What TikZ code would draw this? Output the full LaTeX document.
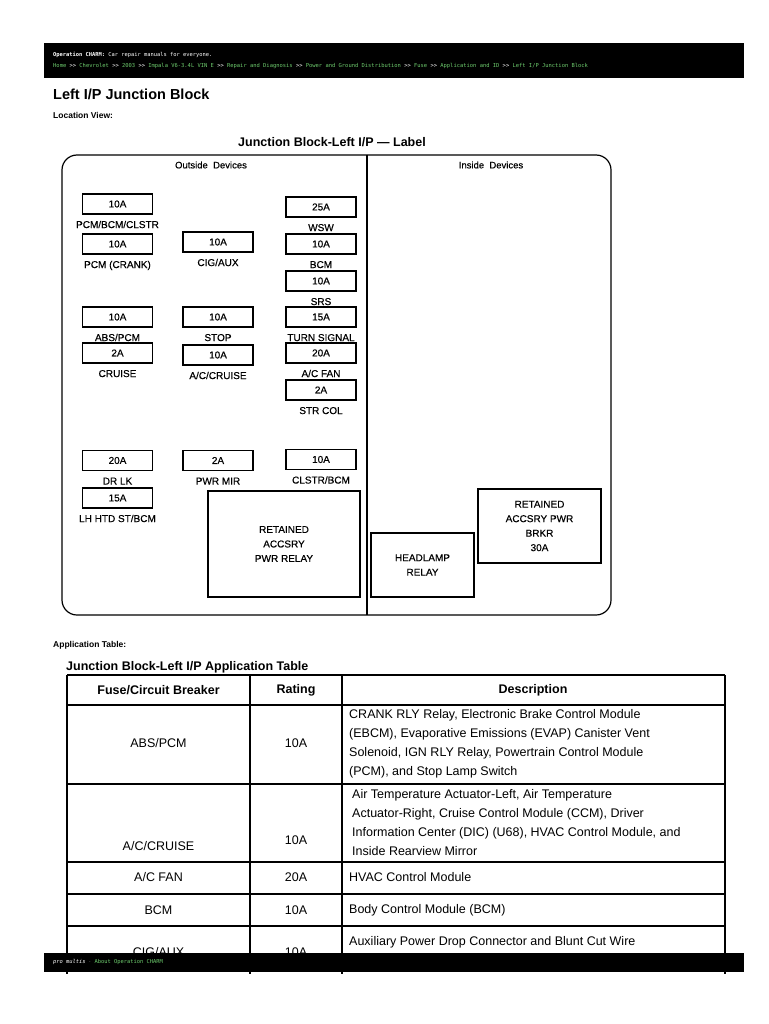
\documentclass[tikz,border=0pt]{standalone}
\usepackage{fontspec}
\setmainfont{Liberation Sans}
\newfontfamily\crumbfont{DejaVu Sans Mono}
\newfontfamily\diagfont[FakeBold=0.35]{Liberation Sans}
\usetikzlibrary{positioning}
\definecolor{crumbgreen}{RGB}{110,205,110}
\newcommand\crumbsep{\textcolor{white}{>>}}

\begin{document}
\begin{tikzpicture}[
    x=1pt, y=-1pt,
    node distance=6pt,
    fuse/.style={rectangle, draw=black, line width=1.7pt,
                 minimum width=70pt, minimum height=20pt, inner sep=0pt,
                 font=\diagfont\fontsize{10}{11}\selectfont},
    fuselbl/.style={inner sep=0pt, text height=7pt, text depth=0pt,
                    font=\diagfont\fontsize{10}{11}\selectfont},
    relay/.style={rectangle, draw=black, line width=1.5pt, inner sep=0pt,
                  align=center, font=\diagfont\fontsize{10}{14.5}\selectfont},
    cell/.style={inner sep=0pt, font=\fontsize{12.5}{19}\selectfont},
    hcell/.style={inner sep=0pt, font=\bfseries\fontsize{12.5}{19}\selectfont},
    desc/.style={cell, anchor=north west, align=left},
    tblline/.style={line width=1.4pt},
    bar/.style={fill=black}
]
\useasboundingbox[fill=white] (0,0) rectangle (768,1024);

% --- header bar ---
\fill[bar] (44,43) rectangle (744,78);
\node[anchor=west, inner sep=0pt, text=white, font=\crumbfont\fontsize{5.4}{6}\selectfont] (site) at (53,55)
  {\textbf{Operation CHARM:} Car repair manuals for everyone.};
\node[anchor=west, inner sep=0pt, text=crumbgreen, font=\crumbfont\fontsize{5.45}{6}\selectfont] (crumbs) at (53,66)
  {Home \crumbsep{} Chevrolet \crumbsep{} 2003 \crumbsep{} Impala V6-3.4L VIN E \crumbsep{} Repair and Diagnosis \crumbsep{} Power and Ground Distribution \crumbsep{} Fuse \crumbsep{} Application and ID \crumbsep{} Left I/P Junction Block};

% --- page titles ---
\node[anchor=west, inner sep=0pt, font=\bfseries\fontsize{14.5}{17}\selectfont] (title) at (53,94) {Left I/P Junction Block};
\node[anchor=west, inner sep=0pt, font=\bfseries\fontsize{8.5}{10}\selectfont] (locview) at (53,115) {Location View:};
\node[inner sep=0pt, font=\bfseries\fontsize{12.5}{15}\selectfont] (blocktitle) at (332,142) {Junction Block-Left I/P --- Label};

% --- junction block outline ---
\draw[line width=1.2pt, rounded corners=15pt] (62,155) rectangle (611,615);
\draw[line width=1.2pt] (367,155) -- (367,615);
\node[inner sep=0pt, font=\diagfont\fontsize{9.5}{11}\selectfont] (outside) at (211,165) {Outside\ \ Devices};
\node[inner sep=0pt, font=\diagfont\fontsize{9.5}{11}\selectfont] (inside) at (491,165) {Inside\ \ Devices};

% --- column 1 ---
\node[fuse] (fpcmbcm) at (117.5,204) {10A};
\node[fuselbl, below=of fpcmbcm] (lpcmbcm) {PCM/BCM/CLSTR};
\node[fuse] (fpcmcrank) at (117.5,244) {10A};
\node[fuselbl, below=of fpcmcrank] (lpcmcrank) {PCM (CRANK)};
\node[fuse] (fabspcm) at (117.5,317) {10A};
\node[fuselbl, below=of fabspcm] (labspcm) {ABS/PCM};
\node[fuse] (fcruise) at (117.5,353) {2A};
\node[fuselbl, below=of fcruise] (lcruise) {CRUISE};
\node[fuse] (fdrlk) at (117.5,460.5) {20A};
\node[fuselbl, below=of fdrlk] (ldrlk) {DR LK};
\node[fuse] (flhhtd) at (117.5,498) {15A};
\node[fuselbl, below=of flhhtd] (llhhtd) {LH HTD ST/BCM};

% --- column 2 ---
\node[fuse] (fcig) at (218,242) {10A};
\node[fuselbl, below=of fcig] (lcig) {CIG/AUX};
\node[fuse] (fstop) at (218,317) {10A};
\node[fuselbl, below=of fstop] (lstop) {STOP};
\node[fuse] (faccruise) at (218,355) {10A};
\node[fuselbl, below=of faccruise] (laccruise) {A/C/CRUISE};
\node[fuse] (fpwrmir) at (218,460.5) {2A};
\node[fuselbl, below=of fpwrmir] (lpwrmir) {PWR MIR};

% --- column 3 ---
\node[fuse] (fwsw) at (321,207) {25A};
\node[fuselbl, below=of fwsw] (lwsw) {WSW};
\node[fuse] (fbcm) at (321,244) {10A};
\node[fuselbl, below=of fbcm] (lbcm) {BCM};
\node[fuse] (fsrs) at (321,281) {10A};
\node[fuselbl, below=of fsrs] (lsrs) {SRS};
\node[fuse] (fturn) at (321,317) {15A};
\node[fuselbl, below=of fturn] (lturn) {TURN SIGNAL};
\node[fuse] (facfan) at (321,353) {20A};
\node[fuselbl, below=of facfan] (lacfan) {A/C FAN};
\node[fuse] (fstrcol) at (321,390) {2A};
\node[fuselbl, below=of fstrcol] (lstrcol) {STR COL};
\node[fuse] (fclstr) at (321,459.5) {10A};
\node[fuselbl, below=of fclstr] (lclstr) {CLSTR/BCM};

% --- relays and breaker ---
\node[relay, minimum width=152pt, minimum height=106pt] (relay) at (284,544) {RETAINED\\ACCSRY\\PWR RELAY};
\node[relay, minimum width=103pt, minimum height=64pt] (headlamp) at (422.5,565) {HEADLAMP\\RELAY};
\node[relay, minimum width=123pt, minimum height=74pt] (brkr) at (539.5,526) {RETAINED\\ACCSRY PWR\\BRKR\\30A};

% --- application table ---
\node[anchor=west, inner sep=0pt, font=\bfseries\fontsize{8.5}{10}\selectfont] (apptable) at (53,645) {Application Table:};
\node[anchor=west, inner sep=0pt, font=\bfseries\fontsize{12.5}{15}\selectfont] (tabletitle) at (66,667) {Junction Block-Left I/P Application Table};

\foreach \y in {675,705,784,862,894,926}
  \draw[tblline] (67,\y) -- (725,\y);
\foreach \x in {67,250,342,725}
  \draw[tblline] (\x,675) -- (\x,974);

\node[hcell] (hfuse) at (158.5,690) {Fuse/Circuit Breaker};
\node[hcell] (hrating) at (296,690) {Rating};
\node[hcell] (hdesc) at (533,690) {Description};

\node[cell] (nabspcm) at (158.5,743) {ABS/PCM};
\node[cell] (rabspcm) at (296,743) {10A};
\node[desc] (dabspcm) at (349,709) {CRANK RLY Relay, Electronic Brake Control Module\\(EBCM), Evaporative Emissions (EVAP) Canister Vent\\Solenoid, IGN RLY Relay, Powertrain Control Module\\(PCM), and Stop Lamp Switch};

\node[cell] (naccruise) at (158.5,846) {A/C/CRUISE};
\node[cell] (raccruise) at (296,840) {10A};
\node[desc] (daccruise) at (352,789) {Air Temperature Actuator-Left, Air Temperature\\Actuator-Right, Cruise Control Module (CCM), Driver\\Information Center (DIC) (U68), HVAC Control Module, and\\Inside Rearview Mirror};

\node[cell] (nacfan) at (158.5,877) {A/C FAN};
\node[cell] (racfan) at (296,877) {20A};
\node[cell, anchor=west] (dacfan) at (349,877) {HVAC Control Module};

\node[cell] (nbcm) at (158.5,910) {BCM};
\node[cell] (rbcm) at (296,910) {10A};
\node[cell, anchor=west] (dbcm) at (349,910) {Body Control Module (BCM)};

\node[cell] (ncig) at (158.5,952) {CIG/AUX};
\node[cell] (rcig) at (296,952) {10A};
\node[cell, anchor=west] (dcig) at (349,942) {Auxiliary Power Drop Connector and Blunt Cut Wire};

% --- footer bar ---
\fill[bar] (44,953) rectangle (744,972);
\node[anchor=west, inner sep=0pt, text=white, font=\crumbfont\fontsize{5.4}{6}\selectfont] (footer) at (53,962)
  {\textit{pro multis} $\cdot$ \textcolor{crumbgreen}{About Operation CHARM}};

\end{tikzpicture}
\end{document}
